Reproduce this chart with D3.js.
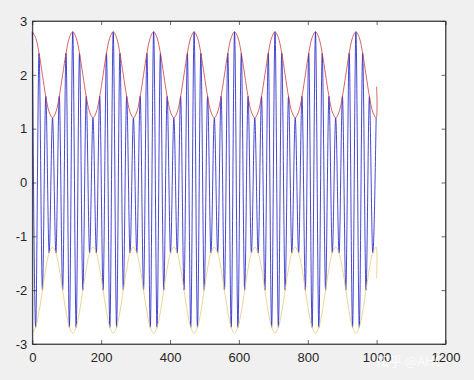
<!DOCTYPE html>
<html>
<head>
<meta charset="utf-8">
<script src="https://cdn.jsdelivr.net/npm/d3@7"></script>
<style>
  body { margin: 0; background: #f0f0f0; }
  svg { display: block; font-family: "Liberation Sans", Arial, sans-serif; }
</style>
</head>
<body>
<script>
// chart size
var width = 474;
var height = 380;

// spacing between carrier extrema (half a carrier period)
var step = 9.79;

// magnitude of each carrier extremum
var peakMag = [
  2.80, 2.69, 2.40, 2.00, 1.60, 1.31, 1.20, 1.31, 1.60, 2.00, 2.40, 2.69,
  2.80, 2.69, 2.40, 2.00, 1.60, 1.31, 1.20, 1.31, 1.60, 2.00, 2.40, 2.69,
  2.80, 2.69, 2.40, 2.00, 1.60, 1.31, 1.20, 1.31, 1.60, 2.00, 2.40, 2.69,
  2.80, 2.69, 2.40, 2.00, 1.60, 1.31, 1.20, 1.31, 1.60, 2.00, 2.40, 2.69,
  2.80, 2.69, 2.40, 2.00, 1.60, 1.31, 1.20, 1.31, 1.60, 2.00, 2.40, 2.69,
  2.80, 2.69, 2.40, 2.00, 1.60, 1.31, 1.20, 1.31, 1.60, 2.00, 2.40, 2.69,
  2.80, 2.69, 2.40, 2.00, 1.60, 1.31, 1.20, 1.31, 1.60, 2.00, 2.40, 2.69,
  2.80, 2.69, 2.40, 2.00, 1.60, 1.31, 1.20, 1.31, 1.60, 2.00, 2.40, 2.69,
  2.80, 2.69, 2.40, 2.00, 1.60, 1.31, 1.20
];

// end of the envelopes (edge effect at the last sample)
var tailX = [1000];
var tailUpper = [1.78];
var tailLower = [-1.78];

// tick values
var xTicks = [0, 200, 400, 600, 800, 1000, 1200];
var yTicks = [-3, -2, -1, 0, 1, 2, 3];

var svg = d3.select('body').append('svg')
  .attr('width', width)
  .attr('height', height);

// plot box edges
var boxL = 32.3, boxR = 445.5, boxT = 21, boxB = 344;

var x = d3.scaleLinear().domain([0, 1200]).range([boxL, boxR]);
var y = d3.scaleLinear().domain([-3, 3]).range([boxB, boxT]);

// white axes area
svg.append('rect')
  .attr('x', boxL).attr('y', boxT)
  .attr('width', boxR - boxL).attr('height', boxB - boxT)
  .attr('fill', '#fff');

// build the point lists
var signal = peakMag.map(function(m, k) {
  return [k * step, (k % 2 === 0 ? 1 : -1) * m];
});
var upper = peakMag.map(function(m, k) { return [k * step, m]; });
var lower = peakMag.map(function(m, k) { return [k * step, -m]; });
tailX.forEach(function(t, i) {
  upper.push([t, tailUpper[i]]);
  lower.push([t, tailLower[i]]);
});

var sigLine = d3.line()
  .x(function(d) { return x(d[0]); })
  .y(function(d) { return y(d[1]); })
  .curve(d3.curveMonotoneX);

var envLine = d3.line()
  .x(function(d) { return x(d[0]); })
  .y(function(d) { return y(d[1]); })
  .curve(d3.curveCatmullRom);

svg.append('path')
  .datum(signal)
  .attr('d', sigLine)
  .attr('fill', 'none')
  .attr('stroke', '#1c1cc4')
  .attr('stroke-opacity', 0.8)
  .attr('stroke-width', 1);

svg.append('path')
  .datum(upper)
  .attr('d', envLine)
  .attr('fill', 'none')
  .attr('stroke', '#c8403c')
  .attr('stroke-width', 0.8);

svg.append('path')
  .datum(lower)
  .attr('d', envLine)
  .attr('fill', 'none')
  .attr('stroke', '#e6cc78')
  .attr('stroke-width', 0.8);

// axes with inward ticks
var axisColor = '#262626';
var fmt = function(d) { return String(d); };

var xb = svg.append('g').attr('transform', 'translate(0,' + boxB + ')')
  .call(d3.axisBottom(x).tickValues(xTicks).tickFormat(fmt).tickSizeInner(-4).tickSizeOuter(0).tickPadding(9));
var xt = svg.append('g').attr('transform', 'translate(0,' + boxT + ')')
  .call(d3.axisTop(x).tickValues(xTicks).tickSizeInner(-4).tickSizeOuter(0).tickFormat(''));
var yl = svg.append('g').attr('transform', 'translate(' + boxL + ',0)')
  .call(d3.axisLeft(y).tickValues(yTicks).tickFormat(fmt).tickSizeInner(-4).tickSizeOuter(0).tickPadding(5));
var yr = svg.append('g').attr('transform', 'translate(' + boxR + ',0)')
  .call(d3.axisRight(y).tickValues(yTicks).tickSizeInner(-4).tickSizeOuter(0).tickFormat(''));

[xb, xt, yl, yr].forEach(function(g) {
  g.selectAll('path, line').attr('stroke', axisColor).attr('stroke-width', 0.7);
  g.selectAll('text').attr('fill', axisColor).attr('font-size', 13)
    .attr('font-family', '"Liberation Sans", Arial, sans-serif');
});

// box
svg.append('rect')
  .attr('x', boxL).attr('y', boxT)
  .attr('width', boxR - boxL).attr('height', boxB - boxT)
  .attr('fill', 'none')
  .attr('stroke', axisColor)
  .attr('stroke-width', 0.7);

// watermark
svg.append('text')
  .attr('x', 376).attr('y', 366)
  .attr('font-size', 13)
  .attr('font-family', '"Noto Sans CJK SC", sans-serif')
  .attr('fill', '#ffffff')
  .attr('fill-opacity', 0.75)
  .text('知乎 @AHC');
</script>
</body>
</html>
